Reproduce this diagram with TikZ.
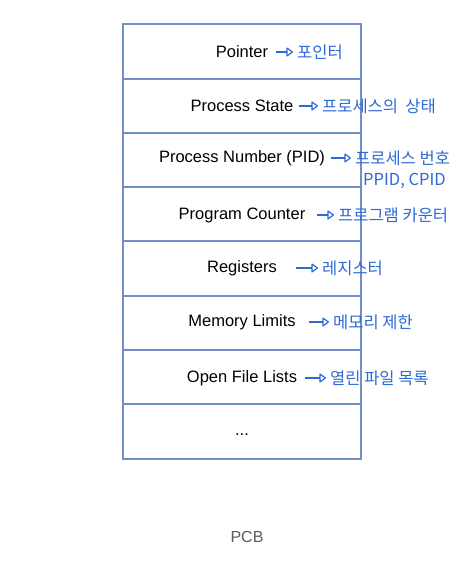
\documentclass[tikz,border=0pt]{standalone}
\usepackage{fontspec}
\setmainfont{Liberation Sans}
\newfontfamily\krfont{Noto Sans CJK KR}
\usetikzlibrary{arrows.meta}
\definecolor{boxblue}{RGB}{112,143,196}
\definecolor{penblue}{RGB}{45,105,215}
\definecolor{capgray}{RGB}{90,90,90}
\tikzset{
  field/.style={font=\fontsize{16.5}{19}\selectfont, inner sep=0pt},
  memo/.style={font=\krfont\fontsize{16.5}{19}\selectfont, text=penblue, inner sep=0pt, anchor=west},
  memoarrow/.style={penblue, line width=1.2pt, -{Triangle[open,round,length=7pt,width=10pt]}, shorten >=4pt}
}
\begin{document}
\begin{tikzpicture}[x=1pt,y=-1pt]
\useasboundingbox (0,0) rectangle (474,579);
% the PCB block
\draw[boxblue,line width=2.5pt] (123,24) rectangle (361,459);
\foreach \y in {79,133,187,241,296,350,404}
  \draw[boxblue,line width=2.5pt] (123,\y)--(361,\y);
% fields
\node[field] (ptr) at (242,52) {Pointer};
\node[field] (state) at (242,106) {Process State};
\node[field] (pid) at (242,158) {Process Number (PID)};
\node[field] (pc) at (242,215) {Program Counter};
\node[field] (reg) at (242,268) {Registers};
\node[field] (mem) at (242,322) {Memory Limits};
\node[field] (files) at (242,378) {Open File Lists};
\node[field] (dots) at (242,435) {...};
\node[font=\fontsize{16}{19}\selectfont,text=capgray] (cap) at (247,537) {PCB};
% handwritten notes
\node[memo] (ptr-memo) at (297,52) {포인터};
\node[memo] (state-memo) at (322,106) {프로세스의\ \ 상태};
\node[memo] (pid-memo) at (355,158) {프로세스 번호};
\node[memo] (pid-memo2) at (363,181) {PPID, CPID};
\node[memo] (pc-memo) at (338,215) {프로그램 카운터};
\node[memo] (reg-memo) at (322,268) {레지스터};
\node[memo] (mem-memo) at (333,322) {메모리 제한};
\node[memo] (files-memo) at (330,378) {열린 파일 목록};
\foreach \n/\gap in {ptr/8,state/5,pid/6,pc/12,reg/19,mem/13,files/8}
  \draw[memoarrow] ([xshift=\gap pt]\n.east) -- (\n-memo.west);
\end{tikzpicture}
\end{document}
